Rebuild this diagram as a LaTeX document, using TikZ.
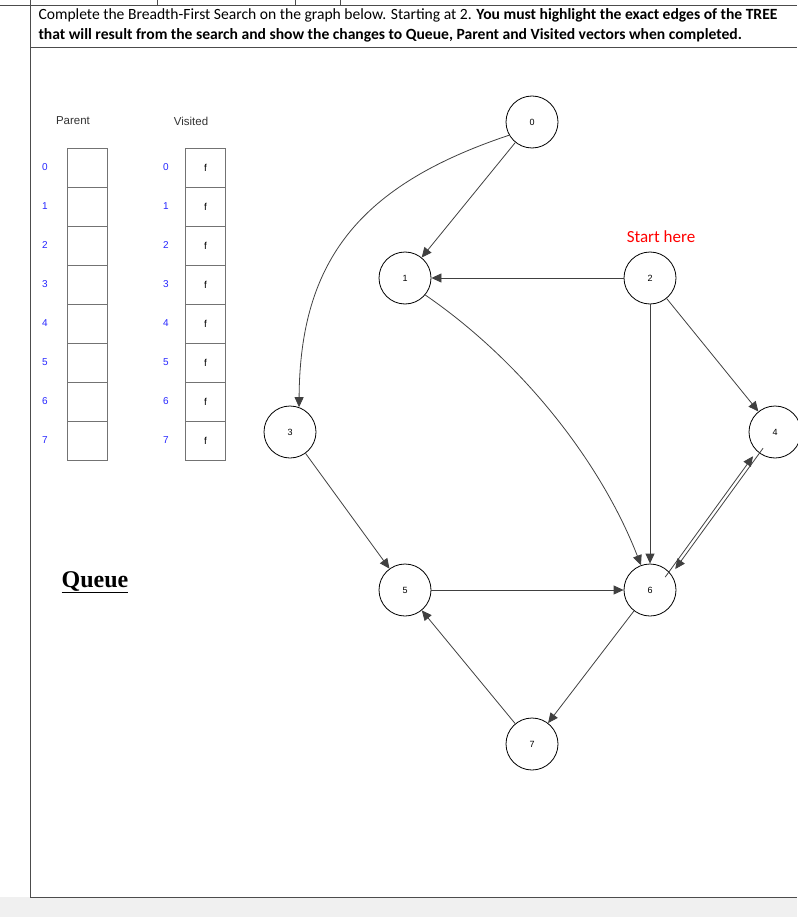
\documentclass[tikz,border=0pt]{standalone}
\usepackage{fontspec}
\setmainfont{Liberation Sans}
\newfontfamily\calfont{Carlito}
\newfontfamily\tmsfont{Liberation Serif}
\usetikzlibrary{arrows.meta}
\begin{document}
\begin{tikzpicture}[x=1pt,y=-1pt,
 vx/.style={circle,draw,thick,minimum size=52pt,inner sep=0pt,font=\fontsize{9}{9}\selectfont},
 ed/.style={draw=black!75,thick,-{Triangle[length=10pt,width=9pt]}},
 cell/.style={draw=black!55,thick,minimum width=40pt,minimum height=39pt,inner sep=0pt,font=\fontsize{10}{10}\selectfont},
 idx/.style={text=blue!85,font=\fontsize{10}{10}\selectfont}]
\useasboundingbox (0,0) rectangle (797,917);
\fill[black!6] (0,897) rectangle (797,917);
\draw[black!70] (0,5) -- (797,5) (30,47) -- (797,47) (30,0) -- (30,897) -- (797,897);
\draw[black!70] (157,0) -- (157,5) (295,0) -- (295,5) (340,0) -- (340,5) (30,0)--(30,5);
\node[anchor=west,align=left,font=\calfont\fontsize{15.6}{19.5}\selectfont] (t) at (35,25.5)
 {Complete the Breadth-First Search on the graph below. Starting at 2. \textbf{You must highlight the exact edges of the TREE}\\\textbf{that will result from the search and show the changes to Queue, Parent and Visited vectors when completed.}};
\node[text=black!80,font=\fontsize{11.5}{11.5}\selectfont] (ph) at (73,121) {Parent};
\node[text=black!80,font=\fontsize{11.5}{11.5}\selectfont] (vh) at (191,121) {Visited};
\foreach \i in {0,...,7}{
 \node[cell] (p\i) at (87,{167.5+39*\i}) {};
 \node[cell] (v\i) at (205.5,{167.5+39*\i}) {f};
 \node[idx] (pi\i) at (45,{167.5+39*\i}) {\i};
 \node[idx] (vi\i) at (166,{167.5+39*\i}) {\i};
}
\node[font=\tmsfont\bfseries\fontsize{24}{24}\selectfont] (q) at (95,582) {\underline{Queue}};
\node[vx] (n0) at (532,122) {0};
\node[vx] (n1) at (405,278) {1};
\node[vx] (n2) at (650,278) {2};
\node[vx] (n3) at (290,432) {3};
\node[vx] (n4) at (775,432) {4};
\node[vx] (n5) at (405,590) {5};
\node[vx] (n6) at (650,590) {6};
\node[vx] (n7) at (532,744) {7};
\node[text=red,font=\calfont\fontsize{17}{17}\selectfont] (sh) at (661,237) {Start here};
\draw[ed] (n0) -- (n1);
\draw[ed] (n0.-150) .. controls (360,185) and (300,260) .. (n3.70);
\draw[ed] (n2) -- (n1);
\draw[ed] (n2) -- (n6);
\draw[ed] (n2) -- (n4);
\draw[ed] (n1.-40) .. controls (520,360) and (600,460) .. (n6.110);
\draw[ed] (n3) -- (n5);
\draw[ed] (n5) -- (n6);
\draw[ed] ([xshift=-5pt,yshift=-4pt]n6.40) -- ([xshift=-5pt,yshift=-4pt]n4.-130);
\draw[ed] ([xshift=5pt,yshift=4pt]n4.-130) -- ([xshift=5pt,yshift=4pt]n6.40);
\draw[ed] (n6) -- (n7);
\draw[ed] (n7) -- (n5);
\end{tikzpicture}
\end{document}
